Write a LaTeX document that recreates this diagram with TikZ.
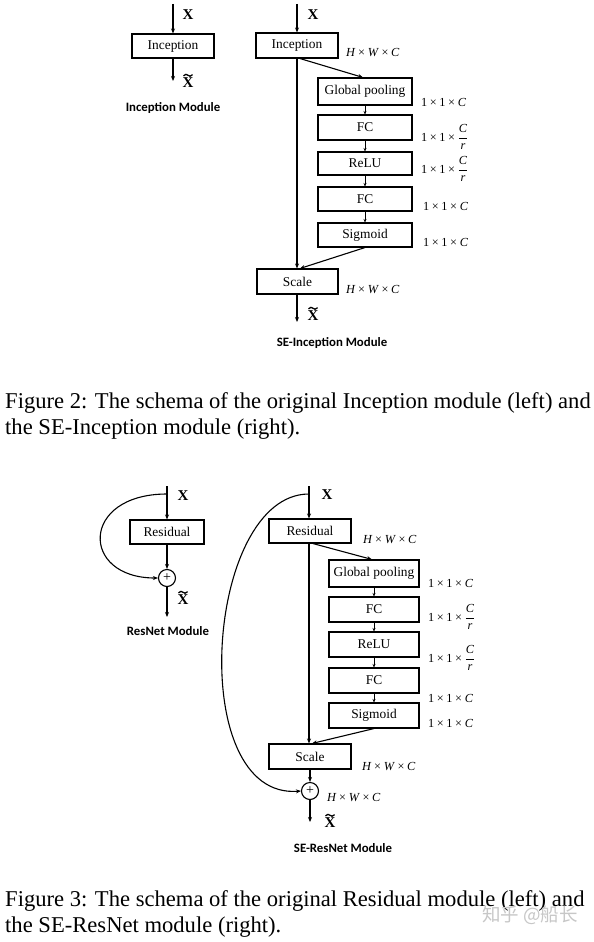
\documentclass[tikz,border=0pt]{standalone}
\usepackage{fontspec}
\setmainfont{Liberation Serif}
\newfontfamily\modfont{Carlito}
\newfontfamily\cjkfont{Noto Sans CJK SC}
\usetikzlibrary{arrows.meta}
\newcommand\tms{\hspace{2.6pt}×\hspace{2.6pt}}
\newcommand\hwcl{\textit{H}\tms\textit{W}\tms\textit{C}}
\newcommand\ooc{1\tms 1\tms\textit{C}}
\newcommand\oocr{1\tms 1\tms$\displaystyle\frac{\textit{C}}{\textit{r}}$}
\begin{document}
\begin{tikzpicture}[x=1pt,y=-1pt,
  every node/.style={inner sep=0pt},
  box/.style={draw, line width=1.1pt, minimum width=82pt, minimum height=24pt, font=\fontsize{13.4}{15}\selectfont},
  sebox/.style={box, minimum width=94pt},
  arr/.style={line width=1.1pt, -{Stealth[length=5pt,width=4pt]}},
  sarr/.style={line width=0.9pt, -{Stealth[length=3.5pt,width=3pt]}},
  xlab/.style={font=\fontsize{15}{16}\selectfont\bfseries},
  tld/.style={line width=1.3pt, line cap=round},
  dim/.style={font=\fontsize{12.3}{13}\selectfont, anchor=west},
  modlab/.style={font=\fontsize{12.8}{15}\selectfont\modfont\bfseries},
  captxt/.style={font=\fontsize{22.6}{24}\selectfont, anchor=base west},
  plus/.style={draw, circle, line width=1.1pt, minimum size=17pt, font=\fontsize{14}{14}\selectfont}
]
\useasboundingbox[fill=white] (0,0) rectangle (594,942);
\newcommand\tilt[1]{\draw[tld] ([xshift=-4.3pt,yshift=2.2pt]#1.north) .. controls +(3.2,-4.2) and +(-3.2,4.2) .. ([xshift=4.3pt,yshift=3pt]#1.north);}

% ---------- Inception module (left) ----------
\coordinate (in1) at (173,4);
\node[box] (inc1) at (173,46) {Inception};
\coordinate (out1) at (173,81);
\draw[arr] (in1) -- (inc1);
\draw[arr] (inc1) -- (out1);
\node[xlab] (x1) at (188,15) {X};
\node[xlab] (xt1) at (188,83) {X};
\tilt{xt1}
\node[modlab] (m1) at (173,108) {Inception Module};

% ---------- SE-Inception module (right) ----------
\coordinate (in2) at (297,4);
\node[box, minimum height=25pt] (inc2) at (297,45.5) {Inception};
\node[sebox, minimum height=27pt] (gp1) at (365,91.5) {Global pooling};
\node[sebox, minimum height=25pt] (fc1) at (365,127.5) {FC};
\node[sebox, minimum height=23pt] (relu1) at (365,163.5) {ReLU};
\node[sebox, minimum height=24pt] (fc1b) at (365,199) {FC};
\node[sebox, minimum height=24pt] (sig1) at (365,235) {Sigmoid};
\node[box, minimum width=81pt, minimum height=25pt] (scale1) at (297.5,281.5) {Scale};
\coordinate (out2) at (297,322);
\draw[arr] (in2) -- (inc2);
\draw[arr] (inc2.south -| 297,0) -- (scale1.north -| 297,0);
\draw[arr] (inc2.south -| 300,0) -- (gp1.north -| 363,0);
\draw[sarr] (gp1) -- (fc1);
\draw[sarr] (fc1) -- (relu1);
\draw[sarr] (relu1) -- (fc1b);
\draw[sarr] (fc1b) -- (sig1);
\draw[arr] (sig1.south) -- (scale1.north -| 300,0);
\draw[arr] (scale1.south -| 297,0) -- (out2);
\node[xlab] (x2) at (313,15) {X};
\node[xlab] (xt2) at (313,316) {X};
\tilt{xt2}
\node[dim] (d1) at (346,53) {\hwcl};
\node[dim] (d2) at (421,102) {\ooc};
\node[dim] (d3) at (421,137) {\oocr};
\node[dim] (d4) at (421,169) {\oocr};
\node[dim] (d5) at (423,206) {\ooc};
\node[dim] (d6) at (423,242) {\ooc};
\node[dim] (d7) at (346,290) {\hwcl};
\node[modlab] (m2) at (332,343) {SE-Inception Module};

\node[captxt] (c1) at (5,408) {Figure 2: The schema of the original Inception module (left) and};
\node[captxt] (c2) at (5,434) {the SE-Inception module (right).};

% ---------- ResNet module (left) ----------
\coordinate (in3) at (167,486);
\coordinate (br3) at (167,494);
\node[box, minimum width=74pt] (res1) at (167,532) {Residual};
\node[plus] (p1) at (167,578) {+};
\coordinate (out3) at (167,617);
\draw[arr] (in3) -- (res1);
\draw[arr] (res1) -- (p1);
\draw[arr] (p1) -- (out3);
\draw[arr] (br3) .. controls (80,494) and (80,578) .. (p1.west);
\node[xlab] (x3) at (183,496) {X};
\node[xlab] (xt3) at (183,600) {X};
\tilt{xt3}
\node[modlab] (m3) at (168,631) {ResNet Module};

% ---------- SE-ResNet module (right) ----------
\coordinate (in4) at (309,486);
\coordinate (br4) at (309,494);
\node[box] (res2) at (310,531) {Residual};
\node[sebox, minimum width=90pt, minimum height=27pt] (gp2) at (374,573.5) {Global pooling};
\node[sebox, minimum width=90pt, minimum height=25pt] (fc2) at (374,609.5) {FC};
\node[sebox, minimum width=90pt, minimum height=25pt] (relu2) at (374,644.5) {ReLU};
\node[sebox, minimum width=90pt, minimum height=25pt] (fc2b) at (374,680.5) {FC};
\node[sebox, minimum width=90pt, minimum height=25pt] (sig2) at (374,715.5) {Sigmoid};
\node[box, minimum height=25pt] (scale2) at (310,756.5) {Scale};
\node[plus] (p2) at (310,791) {+};
\coordinate (out4) at (310,822);
\draw[arr] (in4) -- (res2.north -| 309,0);
\draw[arr] (res2.south -| 309,0) -- (scale2.north -| 309,0);
\draw[arr] (res2.south -| 313,0) -- (gp2.north -| 372,0);
\draw[sarr] (gp2) -- (fc2);
\draw[sarr] (fc2) -- (relu2);
\draw[sarr] (relu2) -- (fc2b);
\draw[sarr] (fc2b) -- (sig2);
\draw[arr] (sig2.south) -- (scale2.north -| 312,0);
\draw[arr] (scale2) -- (p2);
\draw[arr] (p2) -- (out4);
\draw[arr] (br4) .. controls (205,494) and (185,800) .. (p2.west);
\node[xlab] (x4) at (327,495) {X};
\node[xlab] (xt4) at (330,823) {X};
\tilt{xt4}
\node[dim] (e1) at (363,540) {\hwcl};
\node[dim] (e2) at (428,583) {\ooc};
\node[dim] (e3) at (428,617) {\oocr};
\node[dim] (e4) at (428,658) {\oocr};
\node[dim] (e5) at (428,698) {\ooc};
\node[dim] (e6) at (428,723) {\ooc};
\node[dim] (e7) at (362,767) {\hwcl};
\node[dim] (e8) at (327,798) {\hwcl};
\node[modlab] (m4) at (343,848) {SE-ResNet Module};

\node[captxt] (c3) at (5,906) {Figure 3: The schema of the original Residual module (left) and};
\node[captxt] (c4) at (5,932) {the SE-ResNet module (right).};
\node[font=\fontsize{18.5}{18.5}\selectfont\cjkfont, text=black!22, anchor=west] (wm) at (482,915) {知乎 @船长};
\end{tikzpicture}
\end{document}
